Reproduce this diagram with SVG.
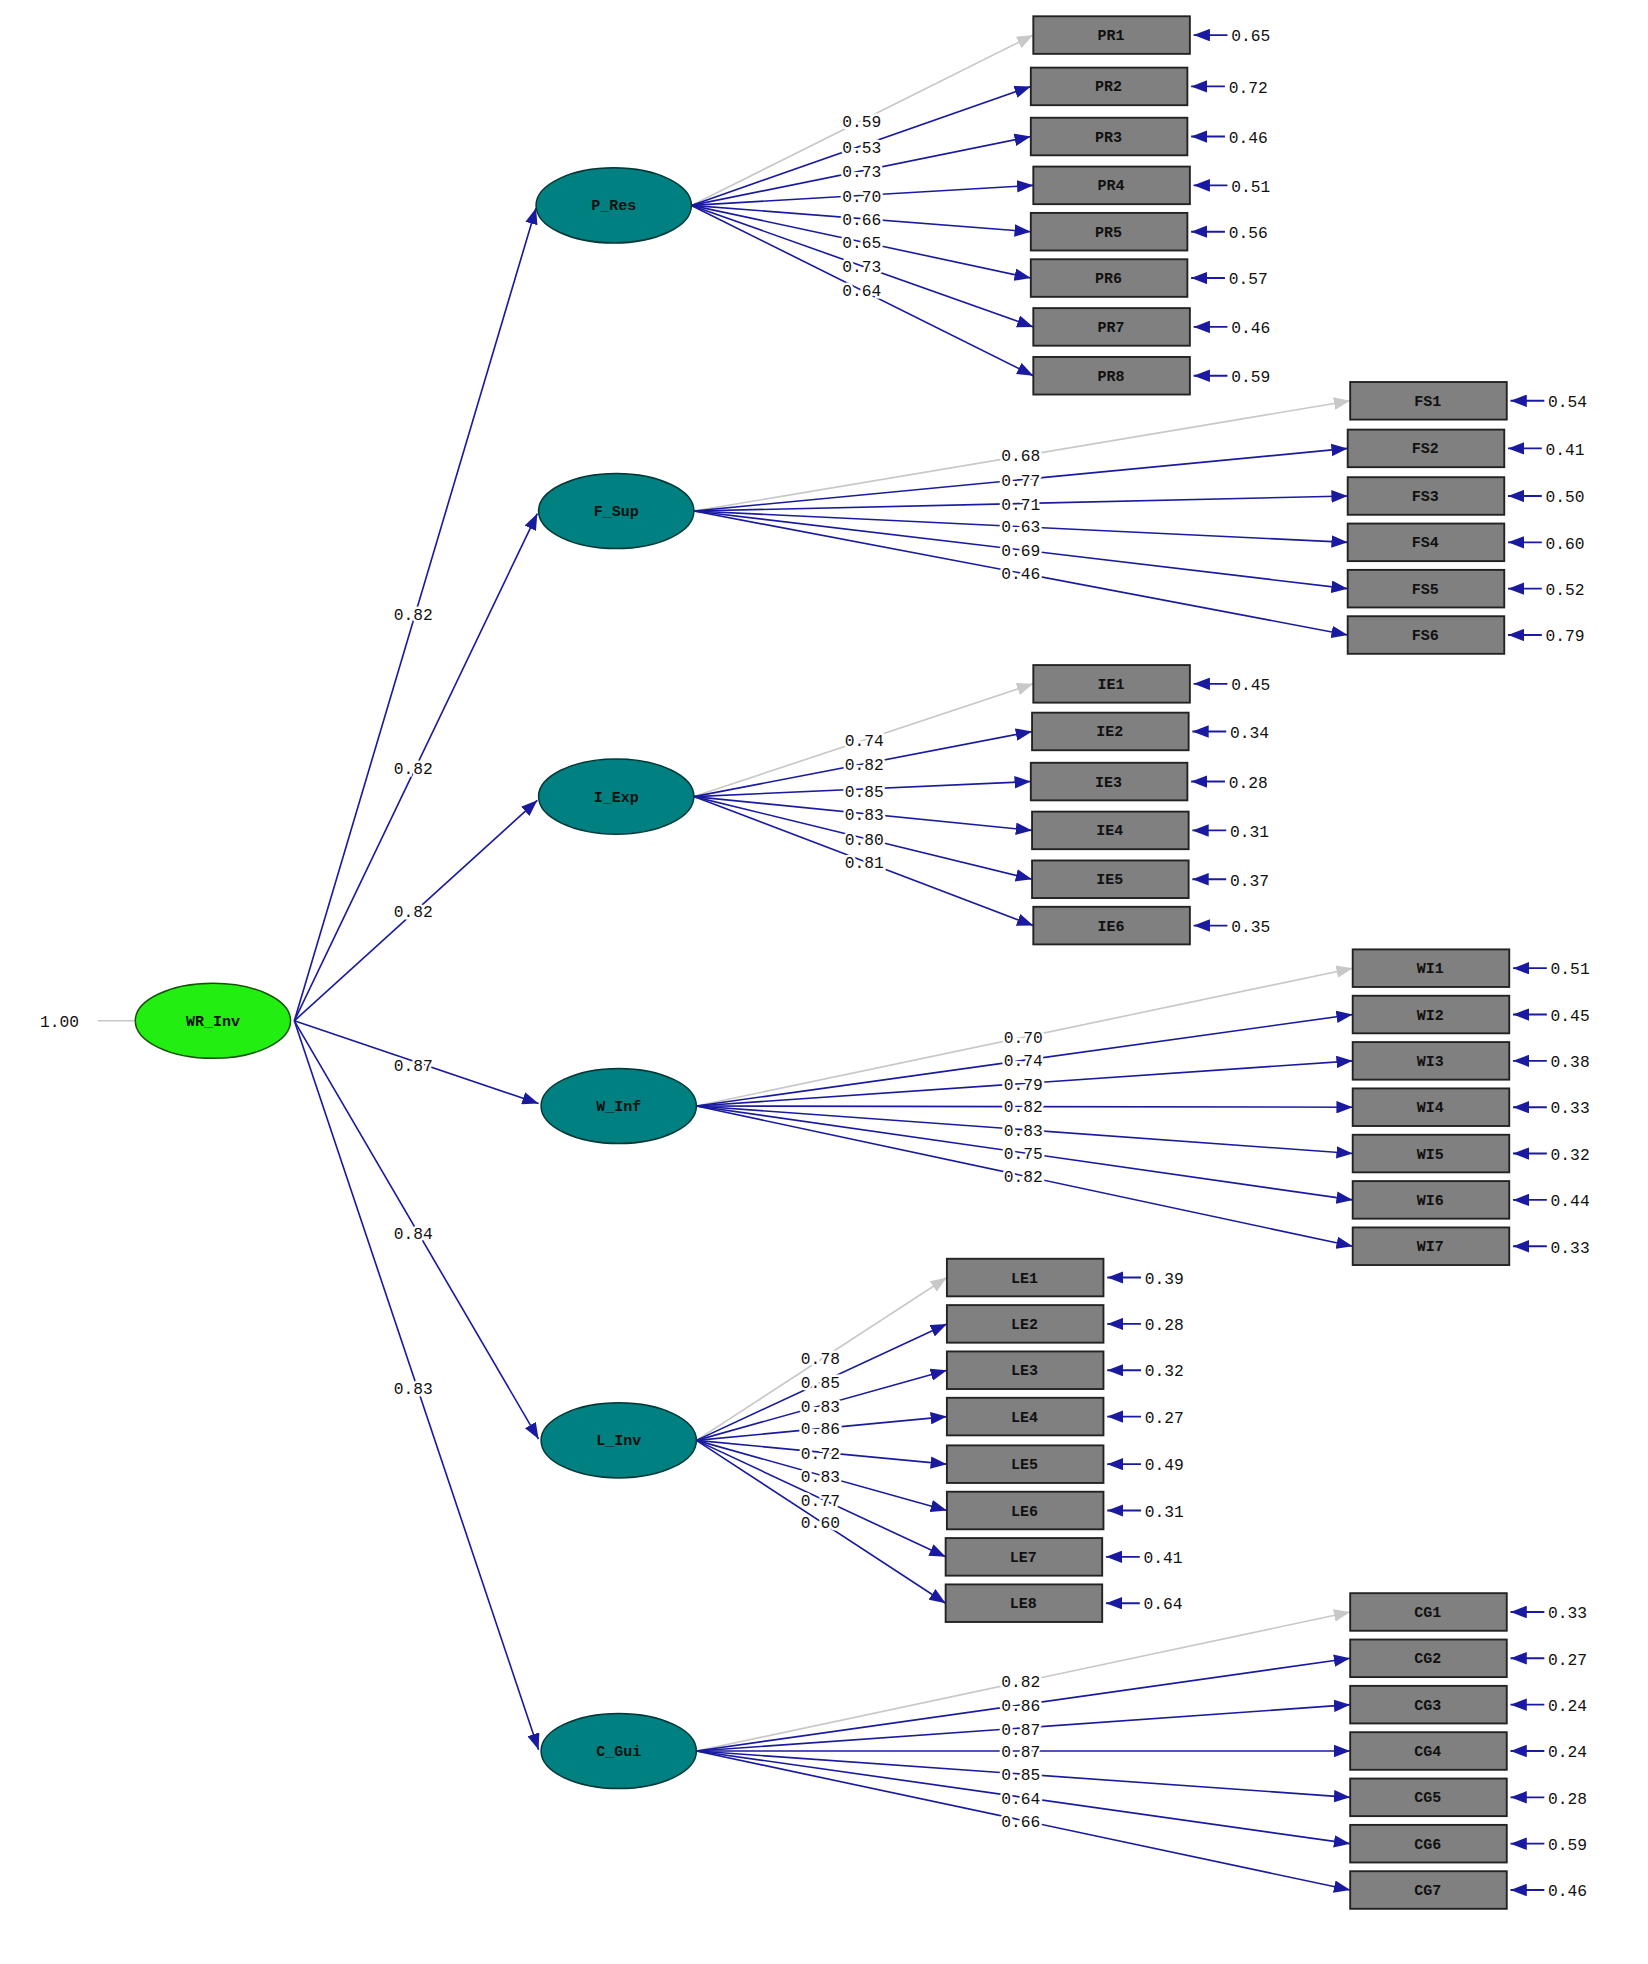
<svg xmlns="http://www.w3.org/2000/svg" width="1648" height="1964" viewBox="0 0 1648 1964">
<style>
.lv{fill:#008080;stroke:#003838;stroke-width:1.2}
.ob{fill:#808080;stroke:#222;stroke-width:1.5}
.t{font-family:"Liberation Mono",monospace;font-size:13px;fill:#111}
.n{font-family:"Liberation Mono",monospace;font-size:12px;fill:#111;text-anchor:middle;font-weight:bold}
.lb{font-family:"Liberation Mono",monospace;font-size:13px;fill:#111;text-anchor:middle;paint-order:stroke;stroke:#fff;stroke-width:4}
.b{stroke:#1a1aa0;stroke-width:1.3;fill:none;marker-end:url(#ab)}
.g{stroke:#c8c8c8;stroke-width:1.3;fill:none;marker-end:url(#ag)}
.e{stroke:#1a1aa0;stroke-width:1.5;marker-end:url(#ab)}
</style>
<defs>
<marker id="ab" markerUnits="userSpaceOnUse" markerWidth="14" markerHeight="10" refX="13" refY="5" orient="auto"><path d="M0,0 L13,5 L0,10 z" fill="#1a1aa0"/></marker>
<marker id="ag" markerUnits="userSpaceOnUse" markerWidth="14" markerHeight="10" refX="13" refY="5" orient="auto"><path d="M0,0 L13,5 L0,10 z" fill="#c8c8c8"/></marker>
</defs>
<g transform="scale(1.2525)">
<g id="connectors">
<line x1="78" y1="815" x2="108" y2="815" stroke="#c8c8c8" stroke-width="1.3"/>
<line class="b" x1="235" y1="815" x2="428" y2="166"/>
<line class="b" x1="235" y1="815" x2="429" y2="410"/>
<line class="b" x1="235" y1="815" x2="429" y2="639"/>
<line class="b" x1="235" y1="815" x2="430" y2="881"/>
<line class="b" x1="235" y1="815" x2="430" y2="1149"/>
<line class="b" x1="235" y1="815" x2="430" y2="1397"/>
<line class="g" x1="552" y1="164" x2="825" y2="28"/>
<line class="b" x1="552" y1="164" x2="823" y2="69"/>
<line class="b" x1="552" y1="164" x2="823" y2="109"/>
<line class="b" x1="552" y1="164" x2="825" y2="148"/>
<line class="b" x1="552" y1="164" x2="823" y2="185"/>
<line class="b" x1="552" y1="164" x2="823" y2="222"/>
<line class="b" x1="552" y1="164" x2="825" y2="261"/>
<line class="b" x1="552" y1="164" x2="825" y2="300"/>
<line class="g" x1="554" y1="408" x2="1078" y2="320"/>
<line class="b" x1="554" y1="408" x2="1076" y2="358"/>
<line class="b" x1="554" y1="408" x2="1076" y2="396"/>
<line class="b" x1="554" y1="408" x2="1076" y2="433"/>
<line class="b" x1="554" y1="408" x2="1076" y2="470"/>
<line class="b" x1="554" y1="408" x2="1076" y2="507"/>
<line class="g" x1="554" y1="636" x2="825" y2="546"/>
<line class="b" x1="554" y1="636" x2="824" y2="584"/>
<line class="b" x1="554" y1="636" x2="823" y2="624"/>
<line class="b" x1="554" y1="636" x2="824" y2="663"/>
<line class="b" x1="554" y1="636" x2="824" y2="702"/>
<line class="b" x1="554" y1="636" x2="825" y2="739"/>
<line class="g" x1="556" y1="883" x2="1080" y2="773"/>
<line class="b" x1="556" y1="883" x2="1080" y2="810"/>
<line class="b" x1="556" y1="883" x2="1080" y2="847"/>
<line class="b" x1="556" y1="883" x2="1080" y2="884"/>
<line class="b" x1="556" y1="883" x2="1080" y2="921"/>
<line class="b" x1="556" y1="883" x2="1080" y2="958"/>
<line class="b" x1="556" y1="883" x2="1080" y2="995"/>
<line class="g" x1="556" y1="1150" x2="756" y2="1020"/>
<line class="b" x1="556" y1="1150" x2="756" y2="1057"/>
<line class="b" x1="556" y1="1150" x2="756" y2="1094"/>
<line class="b" x1="556" y1="1150" x2="756" y2="1131"/>
<line class="b" x1="556" y1="1150" x2="756" y2="1169"/>
<line class="b" x1="556" y1="1150" x2="756" y2="1206"/>
<line class="b" x1="556" y1="1150" x2="755" y2="1243"/>
<line class="b" x1="556" y1="1150" x2="755" y2="1280"/>
<line class="g" x1="556" y1="1398" x2="1078" y2="1287"/>
<line class="b" x1="556" y1="1398" x2="1078" y2="1324"/>
<line class="b" x1="556" y1="1398" x2="1078" y2="1361"/>
<line class="b" x1="556" y1="1398" x2="1078" y2="1398"/>
<line class="b" x1="556" y1="1398" x2="1078" y2="1435"/>
<line class="b" x1="556" y1="1398" x2="1078" y2="1472"/>
<line class="b" x1="556" y1="1398" x2="1078" y2="1509"/>
<text class="lb" x="330" y="495">0.82</text>
<text class="lb" x="330" y="618">0.82</text>
<text class="lb" x="330" y="732">0.82</text>
<text class="lb" x="330" y="855">0.87</text>
<text class="lb" x="330" y="989">0.84</text>
<text class="lb" x="330" y="1113">0.83</text>
<g class="lb">
<text x="688" y="101">0.59</text><text x="688" y="122">0.53</text><text x="688" y="141">0.73</text><text x="688" y="161">0.70</text><text x="688" y="180">0.66</text><text x="688" y="198">0.65</text><text x="688" y="217">0.73</text><text x="688" y="236">0.64</text>
<text x="815" y="368">0.68</text><text x="815" y="388">0.77</text><text x="815" y="407">0.71</text><text x="815" y="425">0.63</text><text x="815" y="444">0.69</text><text x="815" y="462">0.46</text>
<text x="690" y="596">0.74</text><text x="690" y="615">0.82</text><text x="690" y="636">0.85</text><text x="690" y="655">0.83</text><text x="690" y="675">0.80</text><text x="690" y="693">0.81</text>
<text x="817" y="833">0.70</text><text x="817" y="851">0.74</text><text x="817" y="870">0.79</text><text x="817" y="888">0.82</text><text x="817" y="907">0.83</text><text x="817" y="925">0.75</text><text x="817" y="944">0.82</text>
<text x="655" y="1089">0.78</text><text x="655" y="1108">0.85</text><text x="655" y="1127">0.83</text><text x="655" y="1145">0.86</text><text x="655" y="1165">0.72</text><text x="655" y="1183">0.83</text><text x="655" y="1202">0.77</text><text x="655" y="1220">0.60</text>
<text x="815" y="1347">0.82</text><text x="815" y="1366">0.86</text><text x="815" y="1385">0.87</text><text x="815" y="1403">0.87</text><text x="815" y="1421">0.85</text><text x="815" y="1440">0.64</text><text x="815" y="1459">0.66</text>
</g>
</g>
<text class="t" x="32" y="820">1.00</text>
<g id="WR_Inv"><ellipse cx="170" cy="815" rx="62" ry="30" fill="#22ee11" stroke="#115500" stroke-width="1.2"/><text class="n" x="170" y="819">WR_Inv</text></g>
<g id="P_Res"><ellipse class="lv" cx="490" cy="164" rx="62" ry="30"/><text class="n" x="490" y="168">P_Res</text></g>
<g id="F_Sup"><ellipse class="lv" cx="492" cy="408" rx="62" ry="30"/><text class="n" x="492" y="412">F_Sup</text></g>
<g id="I_Exp"><ellipse class="lv" cx="492" cy="636" rx="62" ry="30"/><text class="n" x="492" y="640">I_Exp</text></g>
<g id="W_Inf"><ellipse class="lv" cx="494" cy="883" rx="62" ry="30"/><text class="n" x="494" y="887">W_Inf</text></g>
<g id="L_Inv"><ellipse class="lv" cx="494" cy="1150" rx="62" ry="30"/><text class="n" x="494" y="1154">L_Inv</text></g>
<g id="C_Gui"><ellipse class="lv" cx="494" cy="1398" rx="62" ry="30"/><text class="n" x="494" y="1402">C_Gui</text></g>
<g id="PR1"><rect class="ob" x="825" y="13" width="125" height="30"/><text class="n" x="887" y="32">PR1</text><line class="e" x1="980" y1="28" x2="953" y2="28"/><text class="t" x="983" y="33">0.65</text></g>
<g id="PR2"><rect class="ob" x="823" y="54" width="125" height="30"/><text class="n" x="885" y="73">PR2</text><line class="e" x1="978" y1="69" x2="951" y2="69"/><text class="t" x="981" y="74">0.72</text></g>
<g id="PR3"><rect class="ob" x="823" y="94" width="125" height="30"/><text class="n" x="885" y="113">PR3</text><line class="e" x1="978" y1="109" x2="951" y2="109"/><text class="t" x="981" y="114">0.46</text></g>
<g id="PR4"><rect class="ob" x="825" y="133" width="125" height="30"/><text class="n" x="887" y="152">PR4</text><line class="e" x1="980" y1="148" x2="953" y2="148"/><text class="t" x="983" y="153">0.51</text></g>
<g id="PR5"><rect class="ob" x="823" y="170" width="125" height="30"/><text class="n" x="885" y="189">PR5</text><line class="e" x1="978" y1="185" x2="951" y2="185"/><text class="t" x="981" y="190">0.56</text></g>
<g id="PR6"><rect class="ob" x="823" y="207" width="125" height="30"/><text class="n" x="885" y="226">PR6</text><line class="e" x1="978" y1="222" x2="951" y2="222"/><text class="t" x="981" y="227">0.57</text></g>
<g id="PR7"><rect class="ob" x="825" y="246" width="125" height="30"/><text class="n" x="887" y="265">PR7</text><line class="e" x1="980" y1="261" x2="953" y2="261"/><text class="t" x="983" y="266">0.46</text></g>
<g id="PR8"><rect class="ob" x="825" y="285" width="125" height="30"/><text class="n" x="887" y="304">PR8</text><line class="e" x1="980" y1="300" x2="953" y2="300"/><text class="t" x="983" y="305">0.59</text></g>
<g id="FS1"><rect class="ob" x="1078" y="305" width="125" height="30"/><text class="n" x="1140" y="324">FS1</text><line class="e" x1="1233" y1="320" x2="1206" y2="320"/><text class="t" x="1236" y="325">0.54</text></g>
<g id="FS2"><rect class="ob" x="1076" y="343" width="125" height="30"/><text class="n" x="1138" y="362">FS2</text><line class="e" x1="1231" y1="358" x2="1204" y2="358"/><text class="t" x="1234" y="363">0.41</text></g>
<g id="FS3"><rect class="ob" x="1076" y="381" width="125" height="30"/><text class="n" x="1138" y="400">FS3</text><line class="e" x1="1231" y1="396" x2="1204" y2="396"/><text class="t" x="1234" y="401">0.50</text></g>
<g id="FS4"><rect class="ob" x="1076" y="418" width="125" height="30"/><text class="n" x="1138" y="437">FS4</text><line class="e" x1="1231" y1="433" x2="1204" y2="433"/><text class="t" x="1234" y="438">0.60</text></g>
<g id="FS5"><rect class="ob" x="1076" y="455" width="125" height="30"/><text class="n" x="1138" y="474">FS5</text><line class="e" x1="1231" y1="470" x2="1204" y2="470"/><text class="t" x="1234" y="475">0.52</text></g>
<g id="FS6"><rect class="ob" x="1076" y="492" width="125" height="30"/><text class="n" x="1138" y="511">FS6</text><line class="e" x1="1231" y1="507" x2="1204" y2="507"/><text class="t" x="1234" y="512">0.79</text></g>
<g id="IE1"><rect class="ob" x="825" y="531" width="125" height="30"/><text class="n" x="887" y="550">IE1</text><line class="e" x1="980" y1="546" x2="953" y2="546"/><text class="t" x="983" y="551">0.45</text></g>
<g id="IE2"><rect class="ob" x="824" y="569" width="125" height="30"/><text class="n" x="886" y="588">IE2</text><line class="e" x1="979" y1="584" x2="952" y2="584"/><text class="t" x="982" y="589">0.34</text></g>
<g id="IE3"><rect class="ob" x="823" y="609" width="125" height="30"/><text class="n" x="885" y="628">IE3</text><line class="e" x1="978" y1="624" x2="951" y2="624"/><text class="t" x="981" y="629">0.28</text></g>
<g id="IE4"><rect class="ob" x="824" y="648" width="125" height="30"/><text class="n" x="886" y="667">IE4</text><line class="e" x1="979" y1="663" x2="952" y2="663"/><text class="t" x="982" y="668">0.31</text></g>
<g id="IE5"><rect class="ob" x="824" y="687" width="125" height="30"/><text class="n" x="886" y="706">IE5</text><line class="e" x1="979" y1="702" x2="952" y2="702"/><text class="t" x="982" y="707">0.37</text></g>
<g id="IE6"><rect class="ob" x="825" y="724" width="125" height="30"/><text class="n" x="887" y="743">IE6</text><line class="e" x1="980" y1="739" x2="953" y2="739"/><text class="t" x="983" y="744">0.35</text></g>
<g id="WI1"><rect class="ob" x="1080" y="758" width="125" height="30"/><text class="n" x="1142" y="777">WI1</text><line class="e" x1="1235" y1="773" x2="1208" y2="773"/><text class="t" x="1238" y="778">0.51</text></g>
<g id="WI2"><rect class="ob" x="1080" y="795" width="125" height="30"/><text class="n" x="1142" y="814">WI2</text><line class="e" x1="1235" y1="810" x2="1208" y2="810"/><text class="t" x="1238" y="815">0.45</text></g>
<g id="WI3"><rect class="ob" x="1080" y="832" width="125" height="30"/><text class="n" x="1142" y="851">WI3</text><line class="e" x1="1235" y1="847" x2="1208" y2="847"/><text class="t" x="1238" y="852">0.38</text></g>
<g id="WI4"><rect class="ob" x="1080" y="869" width="125" height="30"/><text class="n" x="1142" y="888">WI4</text><line class="e" x1="1235" y1="884" x2="1208" y2="884"/><text class="t" x="1238" y="889">0.33</text></g>
<g id="WI5"><rect class="ob" x="1080" y="906" width="125" height="30"/><text class="n" x="1142" y="925">WI5</text><line class="e" x1="1235" y1="921" x2="1208" y2="921"/><text class="t" x="1238" y="926">0.32</text></g>
<g id="WI6"><rect class="ob" x="1080" y="943" width="125" height="30"/><text class="n" x="1142" y="962">WI6</text><line class="e" x1="1235" y1="958" x2="1208" y2="958"/><text class="t" x="1238" y="963">0.44</text></g>
<g id="WI7"><rect class="ob" x="1080" y="980" width="125" height="30"/><text class="n" x="1142" y="999">WI7</text><line class="e" x1="1235" y1="995" x2="1208" y2="995"/><text class="t" x="1238" y="1000">0.33</text></g>
<g id="LE1"><rect class="ob" x="756" y="1005" width="125" height="30"/><text class="n" x="818" y="1024">LE1</text><line class="e" x1="911" y1="1020" x2="884" y2="1020"/><text class="t" x="914" y="1025">0.39</text></g>
<g id="LE2"><rect class="ob" x="756" y="1042" width="125" height="30"/><text class="n" x="818" y="1061">LE2</text><line class="e" x1="911" y1="1057" x2="884" y2="1057"/><text class="t" x="914" y="1062">0.28</text></g>
<g id="LE3"><rect class="ob" x="756" y="1079" width="125" height="30"/><text class="n" x="818" y="1098">LE3</text><line class="e" x1="911" y1="1094" x2="884" y2="1094"/><text class="t" x="914" y="1099">0.32</text></g>
<g id="LE4"><rect class="ob" x="756" y="1116" width="125" height="30"/><text class="n" x="818" y="1135">LE4</text><line class="e" x1="911" y1="1131" x2="884" y2="1131"/><text class="t" x="914" y="1136">0.27</text></g>
<g id="LE5"><rect class="ob" x="756" y="1154" width="125" height="30"/><text class="n" x="818" y="1173">LE5</text><line class="e" x1="911" y1="1169" x2="884" y2="1169"/><text class="t" x="914" y="1174">0.49</text></g>
<g id="LE6"><rect class="ob" x="756" y="1191" width="125" height="30"/><text class="n" x="818" y="1210">LE6</text><line class="e" x1="911" y1="1206" x2="884" y2="1206"/><text class="t" x="914" y="1211">0.31</text></g>
<g id="LE7"><rect class="ob" x="755" y="1228" width="125" height="30"/><text class="n" x="817" y="1247">LE7</text><line class="e" x1="910" y1="1243" x2="883" y2="1243"/><text class="t" x="913" y="1248">0.41</text></g>
<g id="LE8"><rect class="ob" x="755" y="1265" width="125" height="30"/><text class="n" x="817" y="1284">LE8</text><line class="e" x1="910" y1="1280" x2="883" y2="1280"/><text class="t" x="913" y="1285">0.64</text></g>
<g id="CG1"><rect class="ob" x="1078" y="1272" width="125" height="30"/><text class="n" x="1140" y="1291">CG1</text><line class="e" x1="1233" y1="1287" x2="1206" y2="1287"/><text class="t" x="1236" y="1292">0.33</text></g>
<g id="CG2"><rect class="ob" x="1078" y="1309" width="125" height="30"/><text class="n" x="1140" y="1328">CG2</text><line class="e" x1="1233" y1="1324" x2="1206" y2="1324"/><text class="t" x="1236" y="1329">0.27</text></g>
<g id="CG3"><rect class="ob" x="1078" y="1346" width="125" height="30"/><text class="n" x="1140" y="1365">CG3</text><line class="e" x1="1233" y1="1361" x2="1206" y2="1361"/><text class="t" x="1236" y="1366">0.24</text></g>
<g id="CG4"><rect class="ob" x="1078" y="1383" width="125" height="30"/><text class="n" x="1140" y="1402">CG4</text><line class="e" x1="1233" y1="1398" x2="1206" y2="1398"/><text class="t" x="1236" y="1403">0.24</text></g>
<g id="CG5"><rect class="ob" x="1078" y="1420" width="125" height="30"/><text class="n" x="1140" y="1439">CG5</text><line class="e" x1="1233" y1="1435" x2="1206" y2="1435"/><text class="t" x="1236" y="1440">0.28</text></g>
<g id="CG6"><rect class="ob" x="1078" y="1457" width="125" height="30"/><text class="n" x="1140" y="1476">CG6</text><line class="e" x1="1233" y1="1472" x2="1206" y2="1472"/><text class="t" x="1236" y="1477">0.59</text></g>
<g id="CG7"><rect class="ob" x="1078" y="1494" width="125" height="30"/><text class="n" x="1140" y="1513">CG7</text><line class="e" x1="1233" y1="1509" x2="1206" y2="1509"/><text class="t" x="1236" y="1514">0.46</text></g>
</g>
</svg>
